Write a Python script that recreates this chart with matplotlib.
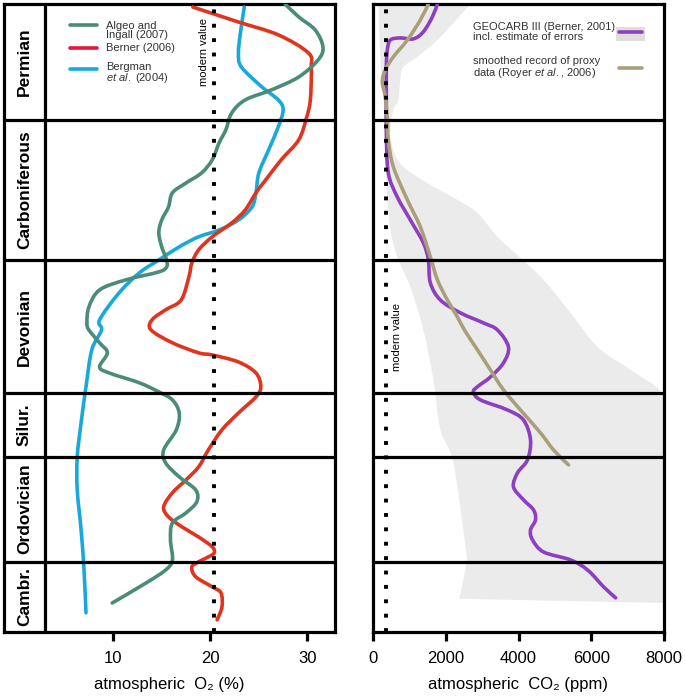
#!/usr/bin/env python3
"""
Phanerozoic atmosphere: O2 and CO2 reconstructions side by side.

Left panel: three O2 models against geological time.
Right panel: GEOCARB III CO2 with error envelope and the smoothed proxy record.
"""

import matplotlib
matplotlib.use("Agg")
import matplotlib.pyplot as plt
from matplotlib.patches import Rectangle, PathPatch
from matplotlib.path import Path
import matplotlib.transforms as mtransforms

# ---------------------------------------------------------------------------
# Data (ages in Ma)
# ---------------------------------------------------------------------------
period_names = ["Permian", "Carboniferous", "Devonian", "Silur.", "Ordovician", "Cambr."]
period_bounds = [249.6, 299, 359, 416, 443, 488, 518]

# Algeo and Ingall (2007)
algeo_age = [249.6, 255.1, 260.7, 268.0, 273.5, 280.8, 286.3, 290.6, 296.2, 303.4,
             309.0, 316.2, 321.8, 326.1, 330.3, 336.3, 341.9, 347.4, 353.4, 359.0,
             362.0, 364.1, 367.5, 371.8, 379.1, 385.9, 388.9, 394.4, 398.7, 404.7,
             407.3, 411.5, 415.4, 418.8, 424.4, 431.6, 440.2, 445.7, 451.7, 457.3,
             462.4, 467.1, 471.4, 478.6, 487.2, 491.5, 497.0, 505.6]
algeo_o2 = [27.7, 29.1, 30.8, 31.6, 31.1, 29.1, 26.3, 23.6, 22.2, 21.6,
            20.9, 20.2, 19.1, 17.5, 16.1, 15.7, 15.0, 14.7, 15.0, 15.5,
            15.5, 14.7, 11.3, 8.6, 7.5, 7.3, 7.5, 8.6, 9.4, 8.6,
            9.6, 12.7, 14.7, 16.1, 16.8, 16.5, 15.2, 15.4, 16.8, 18.5,
            18.6, 17.5, 16.1, 15.9, 16.1, 15.4, 13.4, 9.9]

# Berner (2006)
berner_age = [250.9, 257.3, 262.8, 270.5, 276.5, 290.6, 298.3, 307.7, 316.2, 324.8,
              330.3, 337.6, 343.2, 349.1, 354.7, 360.3, 366.2, 376.1, 380.3, 384.6,
              388.9, 394.4, 398.7, 399.6, 402.6, 407.3, 413.2, 417.5, 424.4, 431.6,
              440.2, 447.4, 453.0, 458.5, 464.5, 468.8, 473.1, 477.4, 481.6, 484.2,
              485.9, 488.0, 490.2, 494.4, 498.7, 501.3, 507.3, 512.8]
berner_o2 = [18.2, 22.9, 27.0, 30.1, 30.4, 30.3, 29.9, 29.1, 27.3, 25.7,
             24.7, 23.6, 22.2, 20.2, 18.8, 18.1, 17.8, 17.0, 15.4, 14.0,
             13.9, 16.1, 18.8, 20.2, 22.9, 24.7, 25.2, 24.7, 22.9, 21.2,
             19.8, 18.8, 17.5, 16.1, 15.2, 15.7, 17.1, 18.8, 20.2, 20.4,
             19.8, 18.8, 18.1, 18.5, 20.2, 21.1, 21.2, 20.7]

# Bergman et al. (2004)
bergman_age = [250.9, 262.0, 270.5, 276.5, 285.0, 290.6, 294.9, 302.1, 312.0, 321.8,
               330.3, 336.3, 341.9, 346.2, 349.1, 353.4, 359.0, 364.5, 373.1, 384.6,
               388.9, 397.4, 413.2, 428.6, 443.2, 457.3, 474.4, 491.5, 509.8]
bergman_o2 = [23.5, 23.1, 22.9, 23.2, 25.3, 27.0, 27.5, 27.0, 26.0, 25.0,
              24.7, 24.3, 22.9, 20.9, 18.8, 16.8, 14.7, 12.7, 10.6, 8.6,
              8.8, 7.8, 7.2, 6.7, 6.3, 6.3, 6.7, 7.0, 7.2]

modern_o2 = 20.4

# GEOCARB III (Berner, 2001)
geocarb_age = [249.6, 255.1, 261.5, 264.5, 264.1, 265.0, 269.2, 276.5, 290.6, 304.7,
               321.8, 332.1, 341.9, 351.7, 359.0, 368.8, 376.1, 381.6, 385.9, 388.9,
               396.2, 403.0, 409.0, 413.2, 415.4, 418.8, 423.1, 427.4, 435.9, 444.4,
               450.0, 456.0, 461.5, 465.8, 470.1, 474.4, 478.6, 483.8, 487.2, 491.5,
               498.7, 503.4]
geocarb_co2 = [1770, 1632, 1384, 1109, 751, 476, 394, 366, 366, 366,
               421, 669, 1027, 1385, 1522, 1577, 1852, 2403, 3036, 3420,
               3724, 3586, 3229, 2870, 2761, 2953, 3697, 4137, 4330, 4247,
               3972, 3862, 4137, 4412, 4467, 4330, 4385, 4688, 5431, 5899,
               6339, 6670]

# GEOCARB error envelope: upper (right) and lower (left) edges
err_hi_age = [249.6, 257.7, 265.0, 272.2, 276.5, 282.1, 290.6, 294.9, 303.4, 312.0,
              319.2, 326.1, 333.3, 338.9, 349.1, 358.1, 367.5, 381.6, 396.2, 406.0,
              415.4, 427.0, 505.6]
err_hi_co2 = [2678, 2210, 1770, 1219, 834, 751, 696, 559, 476, 559,
              834, 1495, 2320, 2871, 3421, 4054, 4688, 5431, 6174, 7083,
              7909, 8000, 8000]
err_lo_age = [249.6, 273.5, 290.6, 303.4, 317.5, 332.1, 346.2, 357.7, 370.5, 388.9,
              410.3, 431.6, 445.7, 481.6, 488.5, 503.8]
err_lo_co2 = [146, 201, 284, 339, 339, 394, 476, 669, 1027, 1385,
              1660, 1852, 2210, 2541, 2568, 2375]

# Smoothed proxy record (Royer et al., 2006)
royer_age = [249.6, 256.4, 265.0, 272.2, 277.8, 282.9, 289.3, 297.9, 307.7, 319.2,
             333.3, 344.9, 357.7, 367.5, 376.1, 383.3, 388.9, 397.4, 406.0, 414.5,
             423.1, 432.9, 440.2, 446.6]
royer_co2 = [1522, 1302, 944, 559, 339, 256, 339, 394, 421, 559,
             944, 1302, 1577, 1770, 2045, 2320, 2513, 2870, 3229, 3586,
             4054, 4605, 4963, 5376]

modern_co2 = 350

# ---------------------------------------------------------------------------
# Styling
# ---------------------------------------------------------------------------
GREEN = "#4b8c78"
RED = "#e0341f"
RED_LEGEND = "#e3173f"
BLUE = "#19a8dc"
PURPLE = "#8d3fc0"
OLIVE = "#a9a07a"
BAND = "#ebebeb"
LEGEND_TEXT = "#333333"

FRAME_LW = 2.3
CURVE_LW = 2.6

plt.rcParams["font.family"] = ["Liberation Sans", "DejaVu Sans"]
plt.rcParams["mathtext.fontset"] = "custom"
plt.rcParams["mathtext.rm"] = "Liberation Sans"
plt.rcParams["mathtext.it"] = "Liberation Sans:italic"


def bezier_through(xs, ys):
    """Bezier control points (Catmull-Rom style) passing through the points.

    Returns vertices and codes without the leading MOVETO.
    """
    pts = list(zip(xs, ys))
    n = len(pts)
    verts, codes = [], []
    for i in range(n - 1):
        p0 = pts[i - 1] if i > 0 else pts[i]
        p1, p2 = pts[i], pts[i + 1]
        p3 = pts[i + 2] if i + 2 < n else pts[i + 1]
        c1 = (p1[0] + (p2[0] - p0[0]) / 6, p1[1] + (p2[1] - p0[1]) / 6)
        c2 = (p2[0] - (p3[0] - p1[0]) / 6, p2[1] - (p3[1] - p1[1]) / 6)
        verts += [c1, c2, p2]
        codes += [Path.CURVE4] * 3
    return verts, codes


def smooth_curve(ax, xs, ys, color):
    """Draw a smooth curve through the read points."""
    verts, codes = bezier_through(xs, ys)
    path = Path([(xs[0], ys[0])] + verts, [Path.MOVETO] + codes)
    ax.add_patch(PathPatch(path, fill=False, edgecolor=color, lw=CURVE_LW,
                           capstyle="round", joinstyle="round", zorder=3))


def smooth_band(ax, hi_x, hi_y, lo_x, lo_y, color):
    """Filled envelope between two smooth edges."""
    v_hi, c_hi = bezier_through(hi_x, hi_y)
    v_lo, c_lo = bezier_through(lo_x[::-1], lo_y[::-1])
    verts = [(hi_x[0], hi_y[0])] + v_hi + [(lo_x[-1], lo_y[-1])] + v_lo + [(hi_x[0], hi_y[0])]
    codes = [Path.MOVETO] + c_hi + [Path.LINETO] + c_lo + [Path.CLOSEPOLY]
    ax.add_patch(PathPatch(Path(verts, codes), facecolor=color, edgecolor="none",
                           zorder=1))


def style_frame(ax, ticks):
    """Thick box, outward ticks at the bottom only."""
    for side in ax.spines.values():
        side.set_linewidth(FRAME_LW)
    ax.set_xticks(ticks)
    ax.set_yticks([])
    ax.tick_params(axis="x", direction="out", length=6.5, width=FRAME_LW,
                   labelsize=12, pad=7)


def draw_periods(ax, show_names):
    """Horizontal period boundaries (and names in a side column)."""
    for b in period_bounds[1:-1]:
        ax.axhline(b, color="black", lw=FRAME_LW, zorder=4)
    if not show_names:
        return
    trans = mtransforms.blended_transform_factory(ax.transAxes, ax.transData)
    for name, top, bot in zip(period_names, period_bounds[:-1], period_bounds[1:]):
        ax.text(0.062, (top + bot) / 2, name, transform=trans, rotation=90,
                ha="center", va="center", fontsize=12.5, fontweight="bold")


def modern_line(ax, x):
    ax.axvline(x, color="black", lw=2.8, linestyle=(0, (1, 2.7)),
               dash_capstyle="butt", zorder=5)


def plot_oxygen(ax):
    ax.set_xlim(-1.24, 32.84)
    ax.set_ylim(period_bounds[-1], period_bounds[0])
    style_frame(ax, [10, 20, 30])

    # label column separator
    ax.axvline(2.97, color="black", lw=FRAME_LW, zorder=4)
    draw_periods(ax, show_names=True)
    modern_line(ax, modern_o2)
    ax.text(modern_o2 - 1.0, 270, "modern value", rotation=90, ha="center",
            va="center", fontsize=8)

    smooth_curve(ax, bergman_o2, bergman_age, BLUE)
    smooth_curve(ax, berner_o2, berner_age, RED)
    smooth_curve(ax, algeo_o2, algeo_age, GREEN)

    # hand-made legend, top left
    entries = [
        (0.9666, GREEN, "Algeo and\nIngall (2007)", 0.958),
        (0.930, RED_LEGEND, "Berner (2006)", 0.930),
        (0.8965, BLUE, "Bergman\n$\\mathit{et\\ al.}$ (2004)", 0.889),
    ]
    for y, col, label, ty in entries:
        ax.plot([0.199, 0.281], [y, y], transform=ax.transAxes, color=col,
                lw=CURVE_LW, solid_capstyle="round")
        ax.text(0.308, ty, label, transform=ax.transAxes, fontsize=8,
                va="center", ha="left", linespacing=0.95, color=LEGEND_TEXT)

    ax.set_xlabel("atmospheric  O\u2082 (%)", fontsize=12, labelpad=8)


def plot_carbon(ax):
    ax.set_xlim(0, 8000)
    ax.set_ylim(period_bounds[-1], period_bounds[0])
    style_frame(ax, [0, 2000, 4000, 6000, 8000])

    smooth_band(ax, err_hi_co2, err_hi_age, err_lo_co2, err_lo_age, BAND)

    draw_periods(ax, show_names=False)
    modern_line(ax, modern_co2)
    ax.text(0.083, 392, "modern value", transform=mtransforms.blended_transform_factory(
        ax.transAxes, ax.transData), rotation=90, ha="center", va="center", fontsize=8)

    smooth_curve(ax, geocarb_co2, geocarb_age, PURPLE)
    smooth_curve(ax, royer_co2, royer_age, OLIVE)

    # legend, top right
    ax.add_patch(Rectangle((0.835, 0.941), 0.10, 0.022, transform=ax.transAxes,
                           facecolor="#dedede", edgecolor="none", zorder=5))
    ax.plot([0.845, 0.925], [0.9554, 0.9554], transform=ax.transAxes,
            color=PURPLE, lw=CURVE_LW, solid_capstyle="round", zorder=6)
    ax.plot([0.845, 0.925], [0.898, 0.898], transform=ax.transAxes,
            color=OLIVE, lw=CURVE_LW, solid_capstyle="round", zorder=6)
    ax.text(0.344, 0.9554, "GEOCARB III (Berner, 2001)\nincl. estimate of errors",
            transform=ax.transAxes, fontsize=8, va="center", ha="left",
            linespacing=1.0, color=LEGEND_TEXT)
    ax.text(0.344, 0.898, "smoothed record of proxy\ndata (Royer $\\mathit{et\\ al.}$, 2006)",
            transform=ax.transAxes, fontsize=8, va="center", ha="left",
            linespacing=1.0, color=LEGEND_TEXT)

    ax.set_xlabel("atmospheric  CO\u2082 (ppm)", fontsize=12, labelpad=8)


def main():
    fig = plt.figure(figsize=(6.85, 6.99), dpi=100)
    bottom = 1 - 632 / 699
    height = (632 - 4) / 699
    ax_o2 = fig.add_axes([4 / 685, bottom, 331 / 685, height])
    ax_co2 = fig.add_axes([373 / 685, bottom, 291 / 685, height])

    plot_oxygen(ax_o2)
    plot_carbon(ax_co2)

    fig.savefig("out.png", dpi=100)
    plt.close(fig)


if __name__ == "__main__":
    main()
